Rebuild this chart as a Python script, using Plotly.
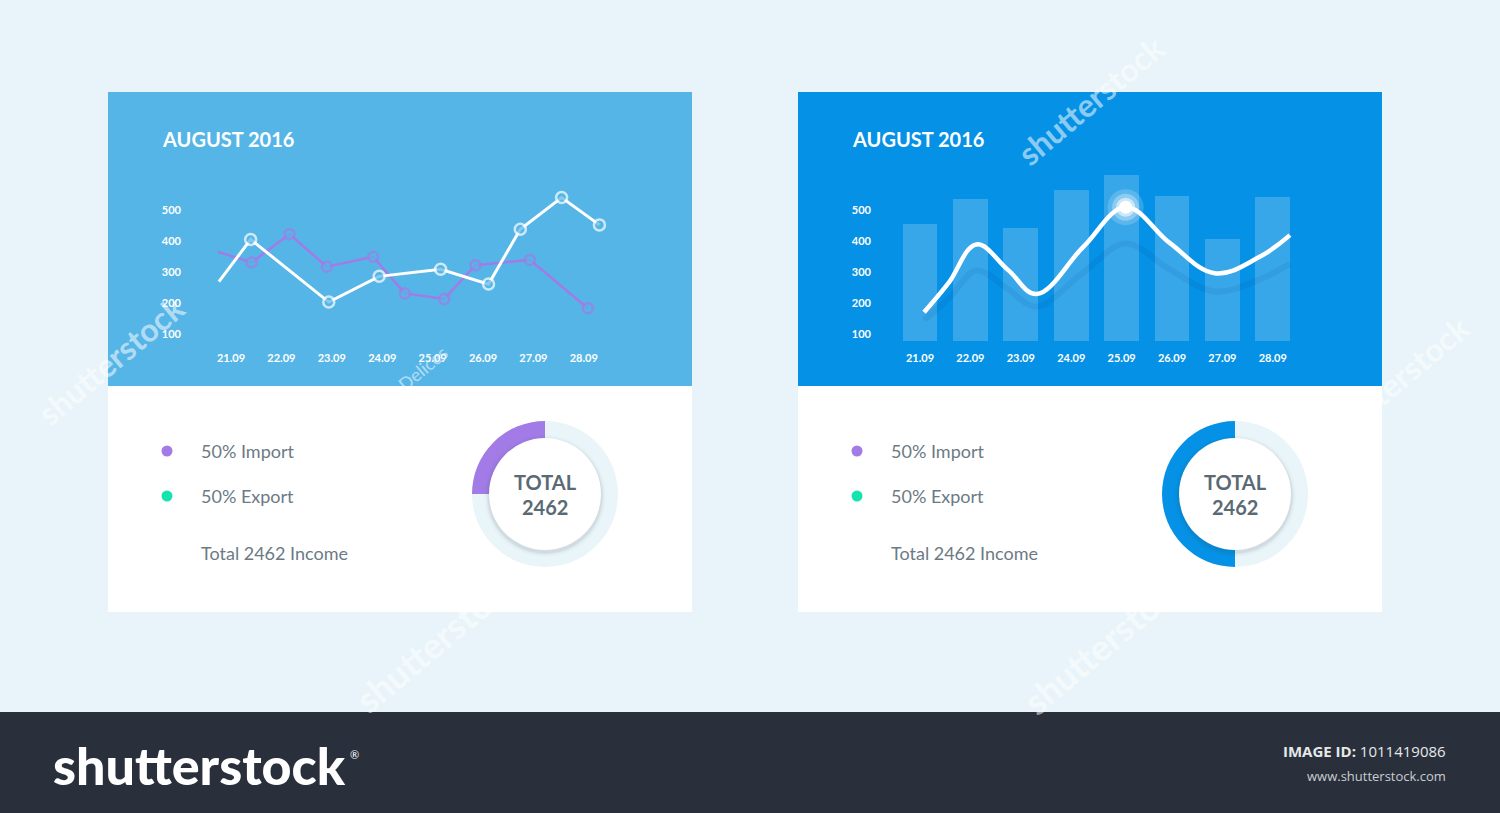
import plotly.graph_objects as go

# ---------------- data ----------------
dates = ["21.09", "22.09", "23.09", "24.09", "25.09", "26.09", "27.09", "28.09"]
y_ticks = [100, 200, 300, 400, 500]

export_x = [-0.24, 0.39, 1.94, 2.94, 4.16, 5.11, 5.74, 6.56, 7.31]
export_y = [269, 405, 203, 286, 309, 261, 438, 540, 452]
import_x = [-0.26, 0.41, 1.16, 1.90, 2.82, 3.45, 4.23, 4.85, 5.93, 7.08]
import_y = [365, 331, 422, 317, 349, 231, 213, 322, 339, 183]

bar_values = [455, 535, 442, 565, 652, 545, 406, 542]
wave_x = [0.08, 0.56, 1.12, 1.75, 2.31, 3.24, 4.08, 4.96, 5.85, 6.74, 7.34]
wave_y = [170, 263, 389, 306, 229, 381, 509, 393, 296, 349, 419]
peak_index = 6

donut_left = [25, 75]     # import share shown on left card
donut_right = [50, 50]    # share shown on right card
title_text = "AUGUST 2016"
legend_labels = ["50% Import", "50% Export"]
total_label = "Total 2462 Income"
total_value = "2462"

# ---------------- geometry helpers ----------------
W, H = 1500, 813


def X(p):
    return p / W


def Y(p):
    return 1 - p / H


STEP = 50.4
PLOT_TOP, PLOT_BOT = 175, 341


def val_at(py):
    return 100 + (334 - py) / 0.31


def idx_range(p0, p1, first):
    return [(p0 - first) / STEP, (p1 - first) / STEP]


BG = "#E8F4F9"
TRACK = "#EAF5F9"
LBLUE = "#56B5E7"
DBLUE = "#0591E5"
PURPLE = "#A27BE6"
GREEN = "#16E3B0"
GREY_TXT = "#6C7A84"
DARK_TXT = "#5A6A74"

fig = go.Figure()

# ---------------- left line chart ----------------
n_exp = len(export_x)
n_imp = len(import_x)
fig.add_trace(go.Scatter(
    x=import_x, y=import_y, mode="lines+markers", xaxis="x", yaxis="y",
    line=dict(color=PURPLE, width=2.5),
    marker=dict(size=[0] + [10] * (n_imp - 1), color=LBLUE,
                line=dict(color=PURPLE, width=2.5)),
    hoverinfo="skip", showlegend=False))
fig.add_trace(go.Scatter(
    x=export_x, y=export_y, mode="lines+markers", xaxis="x", yaxis="y",
    line=dict(color="white", width=3),
    marker=dict(size=[0] + [11] * (n_exp - 1), color=LBLUE,
                line=dict(color="white", width=2.5)),
    hoverinfo="skip", showlegend=False))

# ---------------- right bar chart ----------------
fig.add_trace(go.Bar(
    x=list(range(len(dates))), y=bar_values, xaxis="x2", yaxis="y2",
    width=0.69, marker=dict(color="rgba(255,255,255,0.2)", line=dict(width=0)),
    hoverinfo="skip", showlegend=False))
# faint shadow of the wave (flattened, on overlay axis)
fig.add_trace(go.Scatter(
    x=wave_x, y=wave_y, mode="lines", xaxis="x2", yaxis="y3",
    line=dict(color="rgba(0,50,110,0.08)", width=6, shape="spline"),
    hoverinfo="skip", showlegend=False))
fig.add_trace(go.Scatter(
    x=wave_x, y=wave_y, mode="lines", xaxis="x2", yaxis="y2",
    line=dict(color="white", width=4.5, shape="spline", smoothing=1.1),
    hoverinfo="skip", showlegend=False))
for s, c in [(36, "rgba(255,255,255,0.18)"), (27, "rgba(255,255,255,0.3)"),
             (19, "rgba(255,255,255,0.55)"), (13, "white")]:
    fig.add_trace(go.Scatter(
        x=[wave_x[peak_index]], y=[wave_y[peak_index]], mode="markers",
        xaxis="x2", yaxis="y2", marker=dict(size=s, color=c),
        hoverinfo="skip", showlegend=False))

# ---------------- donuts ----------------
def donut(vals, color, cx, cy, r, hole):
    # coloured share ends at 12 o'clock, running anticlockwise from its start
    start = -360 * vals[0] / sum(vals)
    fig.add_trace(go.Pie(
        values=vals, sort=False, direction="clockwise", rotation=start,
        hole=hole, textinfo="none", hoverinfo="skip", showlegend=False,
        marker=dict(colors=[color, TRACK], line=dict(width=0)),
        domain=dict(x=[X(cx - r), X(cx + r)], y=[Y(cy + r), Y(cy - r)])))


donut(donut_left, PURPLE, 545, 494, 73, 0.74)
donut(donut_right, DBLUE, 1235, 494, 73, 0.68)

# ---------------- axes ----------------
tickfont = dict(family="Lato", size=11, color="white", weight="bold")
yr = [val_at(PLOT_BOT), val_at(PLOT_TOP)]
axis_common = dict(showgrid=False, zeroline=False, showline=False, ticks="",
                   tickfont=tickfont, fixedrange=True)
layout_axes = dict(
    xaxis=dict(domain=[X(195), X(625)], range=idx_range(195, 625, 231),
               tickvals=list(range(len(dates))), ticktext=dates,
               ticklabelstandoff=9, anchor="y", **axis_common),
    yaxis=dict(domain=[Y(PLOT_BOT), Y(PLOT_TOP)], range=yr, tickvals=y_ticks,
               ticklabelstandoff=13, anchor="x", **axis_common),
    xaxis2=dict(domain=[X(885), X(1315)], range=idx_range(885, 1315, 920),
                tickvals=list(range(len(dates))), ticktext=dates,
                ticklabelstandoff=9, anchor="y2", **axis_common),
    yaxis2=dict(domain=[Y(PLOT_BOT), Y(PLOT_TOP)], range=yr, tickvals=y_ticks,
                ticklabelstandoff=13, anchor="x2", **axis_common),
    yaxis3=dict(domain=[Y(PLOT_BOT), Y(PLOT_TOP)], overlaying="y2",
                range=[77.2, 811.7], visible=False, anchor="x2",
                showgrid=False, zeroline=False),
)

# ---------------- shapes ----------------
shapes = []


def rect(x0, y0, x1, y1, color, layer="below"):
    shapes.append(dict(type="rect", xref="paper", yref="paper",
                       x0=X(x0), x1=X(x1), y0=Y(y1), y1=Y(y0),
                       fillcolor=color, line=dict(width=0), layer=layer))


def circle(cx, cy, r, color, layer="below"):
    shapes.append(dict(type="circle", xref="paper", yref="paper",
                       x0=X(cx - r), x1=X(cx + r), y0=Y(cy + r), y1=Y(cy - r),
                       fillcolor=color, line=dict(width=0), layer=layer))


for off, top in [(0, LBLUE), (690, DBLUE)]:
    rect(108 + off, 92, 692 + off, 386, top)
    rect(108 + off, 386, 692 + off, 612, "white")
    circle(167 + off, 451, 5.5, PURPLE)
    circle(167 + off, 496, 5.5, GREEN)

rect(0, 712, 1500, 813, "#29303B")

for cx in [545, 1235]:
    for r, a in [(61, 0.02), (59.5, 0.03), (58.3, 0.045), (57.3, 0.055)]:
        circle(cx, 496, r, "rgba(60,80,90,%s)" % a, layer="above")
    circle(cx, 494, 56, "white", layer="above")

# ---------------- annotations ----------------
ann = []


def text(x, y, s, size, color, xanchor="left", family="Lato", weight="normal",
         angle=0):
    ann.append(dict(x=X(x), y=Y(y), xref="paper", yref="paper", text=s,
                    showarrow=False, xanchor=xanchor, yanchor="middle",
                    textangle=angle,
                    font=dict(family=family, size=size, color=color,
                              weight=weight)))


# watermarks
for (wx, wy, sz) in [(1090, 100, 32), (110, 360, 32), (437, 640, 36),
                     (1105, 642, 36), (1395, 380, 32)]:
    text(wx, wy, "shutterstock", sz, "rgba(255,255,255,0.55)", xanchor="center",
         weight="bold", angle=-40)
for (wx, wy) in [(423, 368), (915, 512)]:
    text(wx, wy, "Delices", 18, "rgba(255,255,255,0.55)", xanchor="center",
         angle=-40)

for off in [0, 690]:
    text(160 + off, 139, title_text, 20, "white", weight="bold")
    text(199 + off, 451, legend_labels[0], 18, GREY_TXT)
    text(199 + off, 496, legend_labels[1], 18, GREY_TXT)
    text(199 + off, 553, total_label, 18, GREY_TXT)
    text(545 + off, 482, "TOTAL", 20, DARK_TXT, xanchor="center", weight="bold")
    text(545 + off, 507, total_value, 20, DARK_TXT, xanchor="center",
         weight="bold")

text(51, 765, "shutterstock", 52, "white", weight=900)
text(348, 754, "®", 11, "white")
text(1448, 751, "<b>IMAGE ID:</b> 1011419086", 15, "#E6E8EA", xanchor="right",
     family="Open Sans")
text(1448, 776, "www.shutterstock.com", 13, "#C9CDD2", xanchor="right",
     family="Open Sans")

fig.update_layout(
    width=W, height=H, margin=dict(l=0, r=0, t=0, b=0),
    paper_bgcolor=BG, plot_bgcolor="rgba(0,0,0,0)",
    shapes=shapes, annotations=ann, bargap=0, **layout_axes)

fig.write_html("out.html", config=dict(displayModeBar=False))
